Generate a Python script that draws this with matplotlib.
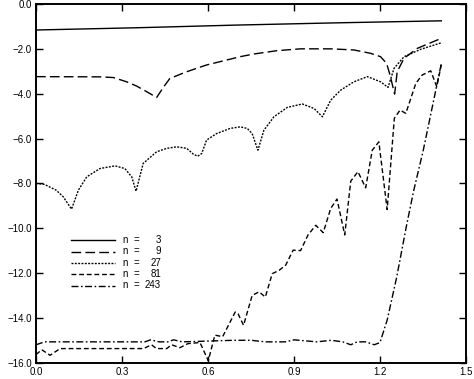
import matplotlib
matplotlib.use("Agg")
import matplotlib.pyplot as plt
from matplotlib.lines import Line2D
from matplotlib.ticker import FuncFormatter, MultipleLocator

plt.rcParams['font.family'] = ['Liberation Sans', 'DejaVu Sans']

# ---- data ----
x3 = [0.0, 0.35, 0.70, 1.05, 1.414]
y3 = [-1.16, -1.06, -0.94, -0.84, -0.75]

x9 = [0.0, 0.223, 0.27, 0.316, 0.351, 0.386, 0.421, 0.444, 0.467, 0.526, 0.595,
      0.665, 0.712, 0.76, 0.842, 0.923, 1.028, 1.109, 1.167, 1.202, 1.223, 1.235,
      1.251, 1.26, 1.284, 1.33, 1.414]
y9 = [-3.24, -3.25, -3.28, -3.47, -3.66, -3.91, -4.17, -3.72, -3.32, -3.02, -2.72,
      -2.50, -2.35, -2.23, -2.08, -2.00, -2.00, -2.05, -2.20, -2.35, -2.65, -3.17,
      -4.02, -3.02, -2.42, -1.98, -1.53]

x27 = [0.0, 0.03, 0.07, 0.095, 0.124, 0.148, 0.177, 0.223, 0.276, 0.31, 0.334,
       0.349, 0.374, 0.421, 0.456, 0.491, 0.526, 0.549, 0.564, 0.578, 0.595, 0.63,
       0.677, 0.712, 0.737, 0.754, 0.774, 0.795, 0.83, 0.877, 0.929, 0.97, 0.999,
       1.028, 1.063, 1.109, 1.156, 1.202, 1.228, 1.249, 1.284, 1.342, 1.414]
y27 = [-8.00, -8.05, -8.3, -8.6, -9.15, -8.30, -7.71, -7.34, -7.22, -7.34, -7.71,
       -8.35, -7.11, -6.59, -6.44, -6.37, -6.44, -6.70, -6.79, -6.67, -6.07, -5.78,
       -5.55, -5.48, -5.55, -5.78, -6.52, -5.63, -5.03, -4.61, -4.46, -4.66, -5.03,
       -4.29, -3.84, -3.47, -3.24, -3.47, -3.72, -2.87, -2.35, -2.02, -1.73]

x81 = [0.0, 0.02, 0.049, 0.084, 0.375, 0.403, 0.42, 0.456, 0.473, 0.502, 0.53,
       0.572, 0.601, 0.624, 0.651, 0.695, 0.705, 0.724, 0.754, 0.778, 0.80, 0.824,
       0.848, 0.871, 0.897, 0.923, 0.949, 0.976, 1.002, 1.028, 1.05, 1.077, 1.098,
       1.123, 1.15, 1.173, 1.196, 1.225, 1.25, 1.27, 1.29, 1.325, 1.347, 1.377,
       1.398, 1.414]
y81 = [-15.64, -15.42, -15.67, -15.37, -15.37, -15.20, -15.37, -15.37, -15.20,
       -15.33, -15.15, -15.10, -15.91, -14.77, -14.84, -13.74, -13.82, -14.33,
       -13.00, -12.84, -13.07, -12.03, -11.88, -11.65, -10.98, -11.00, -10.30,
       -9.87, -10.20, -9.12, -8.70, -10.30, -7.90, -7.48, -8.20, -6.52, -6.15,
       -9.17, -5.10, -4.73, -4.88, -3.54, -3.17, -2.98, -3.69, -2.70]

x243 = [0.0, 0.03, 0.38, 0.40, 0.43, 0.46, 0.48, 0.51, 0.69, 0.75, 0.80, 0.87,
        0.90, 0.98, 1.03, 1.07, 1.098, 1.12, 1.15, 1.18, 1.20, 1.225, 1.258,
        1.293, 1.318, 1.351, 1.414]
y243 = [-15.20, -15.07, -15.07, -14.98, -15.07, -15.07, -14.98, -15.07, -15.00,
        -15.00, -15.07, -15.07, -14.98, -15.07, -15.00, -15.07, -15.20, -15.07,
        -15.07, -15.20, -15.10, -14.10, -12.20, -9.85, -8.30, -6.52, -2.65]

labels = ["3", "9", "27", "81", "243"]

# ---- figure ----
fig = plt.figure(figsize=(4.74, 3.79), dpi=100)
ax = fig.add_axes([36/474, 1 - 362.7/379, 430/474, 358.7/379])

styles = [
    dict(linestyle='-'),
    dict(linestyle=(0, (7, 3))),
    dict(linestyle=(0, (1.4, 1.0))),
    dict(linestyle=(0, (3.5, 2))),
    dict(linestyle=(0, (5, 1.8, 1.2, 1.8))),
]
series = [(x3, y3), (x9, y9), (x27, y27), (x81, y81), (x243, y243)]
for (xs, ys), st in zip(series, styles):
    ax.plot(xs, ys, color='black', linewidth=1.0, **st)

ax.set_xlim(0, 1.5)
ax.set_ylim(-16, 0)
ax.xaxis.set_major_locator(MultipleLocator(0.3))
ax.yaxis.set_major_locator(MultipleLocator(2.0))
fmt = FuncFormatter(lambda v, p: ("%.1f" % v).replace('-', '\u2212') if abs(v) > 1e-9 else "0.0")
ax.xaxis.set_major_formatter(fmt)
ax.yaxis.set_major_formatter(fmt)
ax.tick_params(direction='in', length=5, width=1.0, top=True, right=True,
               labelsize=7, pad=3)
for s in ax.spines.values():
    s.set_linewidth(1.4)

# legend drawn manually in axes coordinates
tr = ax.transAxes
def ax_xy(px, py):
    return ((px - 36) / 430, (362.7 - py) / 358.7)

rows_y = [240.0, 251.5, 263.0, 274.3, 285.5]
for st, lab, py in zip(styles, labels, rows_y):
    x0, yy = ax_xy(71, py)
    x1, _ = ax_xy(115, py)
    ax.add_line(Line2D([x0, x1], [yy, yy], transform=tr, color='black',
                       linewidth=1.0, **st))
    xt, _ = ax_xy(122, py)
    ax.text(xt, yy, "n", transform=tr, fontsize=7, va='center', ha='left')
    xe, _ = ax_xy(134, py)
    ax.text(xe, yy, "=", transform=tr, fontsize=7, va='center', ha='left')
    xn, _ = ax_xy(161, py)
    ax.text(xn, yy, lab, transform=tr, fontsize=7, va='center', ha='right')

fig.savefig("out.png", dpi=100)
